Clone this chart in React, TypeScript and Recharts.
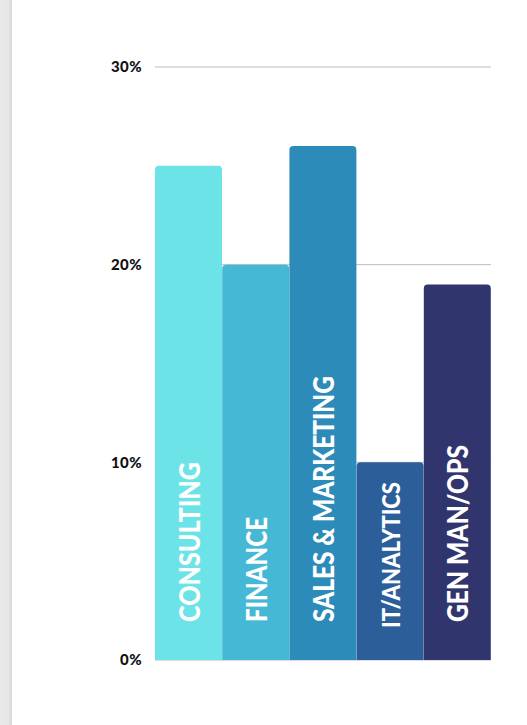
import React from "react";
import { BarChart, Bar, XAxis, YAxis, CartesianGrid, Cell, LabelList } from "recharts";

const categories = ["CONSULTING", "FINANCE", "SALES & MARKETING", "IT/ANALYTICS", "GEN MAN/OPS"];
const shares = [25, 20, 26, 10, 19];
const yTicks = [0, 10, 20, 30];
const barColors = ["#6CE4E7", "#45B8D5", "#2D8BB9", "#2C5F9A", "#30356E"];

const data = categories.map((name, i) => ({ name, value: shares[i] }));

// per-label text styling (length along the bar, font size, offset from the base)
const labelStyle = [
  { len: 160, fs: 28, off: 38 },
  { len: 105, fs: 28, off: 38 },
  { len: 246, fs: 28, off: 38 },
  { len: 146, fs: 24, off: 32 },
  { len: 177, fs: 28, off: 38 },
];

const renderLabel = (props: any) => {
  const { x, y, width, height, value, index } = props;
  const s = labelStyle[index] || labelStyle[0];
  const cap = s.fs * 0.72;
  const cx = Number(x) + Number(width) / 2 + 1;
  const bx = cx + cap / 2;
  const by = Number(y) + Number(height) - s.off;
  return (
    <text
      x={bx}
      y={by}
      transform={`rotate(-90 ${bx} ${by})`}
      fill="#ffffff"
      fontFamily="Lato, 'Open Sans', sans-serif"
      fontWeight={900}
      fontSize={s.fs}
      textAnchor="start"
      textLength={s.len}
      lengthAdjust="spacingAndGlyphs"
    >
      {value}
    </text>
  );
};

export default function App() {
  return (
    <div style={{ position: "fixed", left: 0, top: 0, width: 527, height: 725, background: "#ffffff", overflow: "hidden" }}>
      <div
        style={{
          position: "absolute",
          left: 0,
          top: 0,
          width: 12,
          height: 725,
          background: "linear-gradient(to right, #e9e9e9 0%, #e6e6e6 70%, #d6d6d6 100%)",
        }}
      />
      <div style={{ position: "absolute", left: 0, top: 0 }}>
        <BarChart
          width={527}
          height={725}
          data={data}
          margin={{ top: 67, right: 36, bottom: 65, left: 0 }}
          barCategoryGap={0}
          barGap={0}
        >
          <CartesianGrid vertical={false} stroke="#bdbdbd" strokeWidth={1} />
          <XAxis dataKey="name" hide />
          <YAxis
            width={155}
            domain={[0, 30]}
            ticks={yTicks}
            tickFormatter={(v: number) => `${v}%`}
            axisLine={false}
            tickLine={false}
            tickSize={0}
            tickMargin={13}
            tick={{ fill: "#111111", fontSize: 15, fontWeight: 900, fontFamily: "Lato, sans-serif", letterSpacing: 0.4 }}
          />
          <Bar dataKey="value" isAnimationActive={false} radius={[4, 4, 0, 0]}>
            {data.map((d, i) => (
              <Cell key={d.name} fill={barColors[i]} />
            ))}
            <LabelList dataKey="name" content={renderLabel} />
          </Bar>
        </BarChart>
      </div>
    </div>
  );
}
